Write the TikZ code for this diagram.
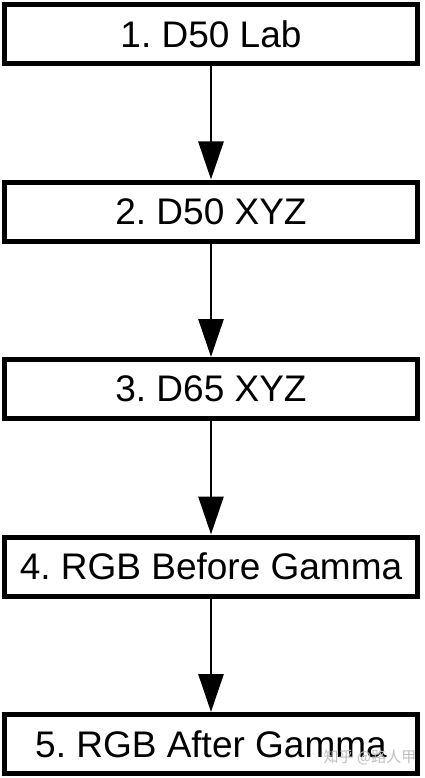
\documentclass[tikz,border=0pt]{standalone}
\usepackage{fontspec}
\setmainfont{Liberation Sans}
\newfontfamily\cjkfont{Noto Sans CJK SC}
\frenchspacing
\usetikzlibrary{arrows.meta, positioning}
\tikzset{
  stage/.style = {rectangle, draw, line width=5pt, minimum width=413pt,
                  minimum height=59pt, inner sep=0pt,
                  font=\fontsize{37}{42}\selectfont},
  flow/.style  = {-{Triangle[length=38pt, width=25pt]}, line width=2.8pt},
  wmark/.style = {font=\cjkfont\fontsize{15}{16}\selectfont, text=black!25,
                  inner sep=0pt},
}
\begin{document}
\begin{tikzpicture}[x=1pt, y=1pt, node distance=113.5pt]
  \useasboundingbox (0,0) rectangle (424,-778);
  % ---- conversion stages
  \node[stage] (s1) at (211,-34) {1. D50 Lab};
  \node[stage, below=of s1] (s2) {2. D50 XYZ};
  \node[stage, below=of s2] (s3) {3. D65 XYZ};
  \node[stage, below=of s3] (s4) {4. RGB Before Gamma};
  \node[stage, below=of s4] (s5) {5. RGB After Gamma};
  % ---- arrows
  \foreach \a/\b in {s1/s2, s2/s3, s3/s4, s4/s5}
    \draw[flow] (\a) -- (\b);
  % ---- watermark
  \node[wmark] (wm) at (370,-757) {知乎 @路人甲};
\end{tikzpicture}
\end{document}
